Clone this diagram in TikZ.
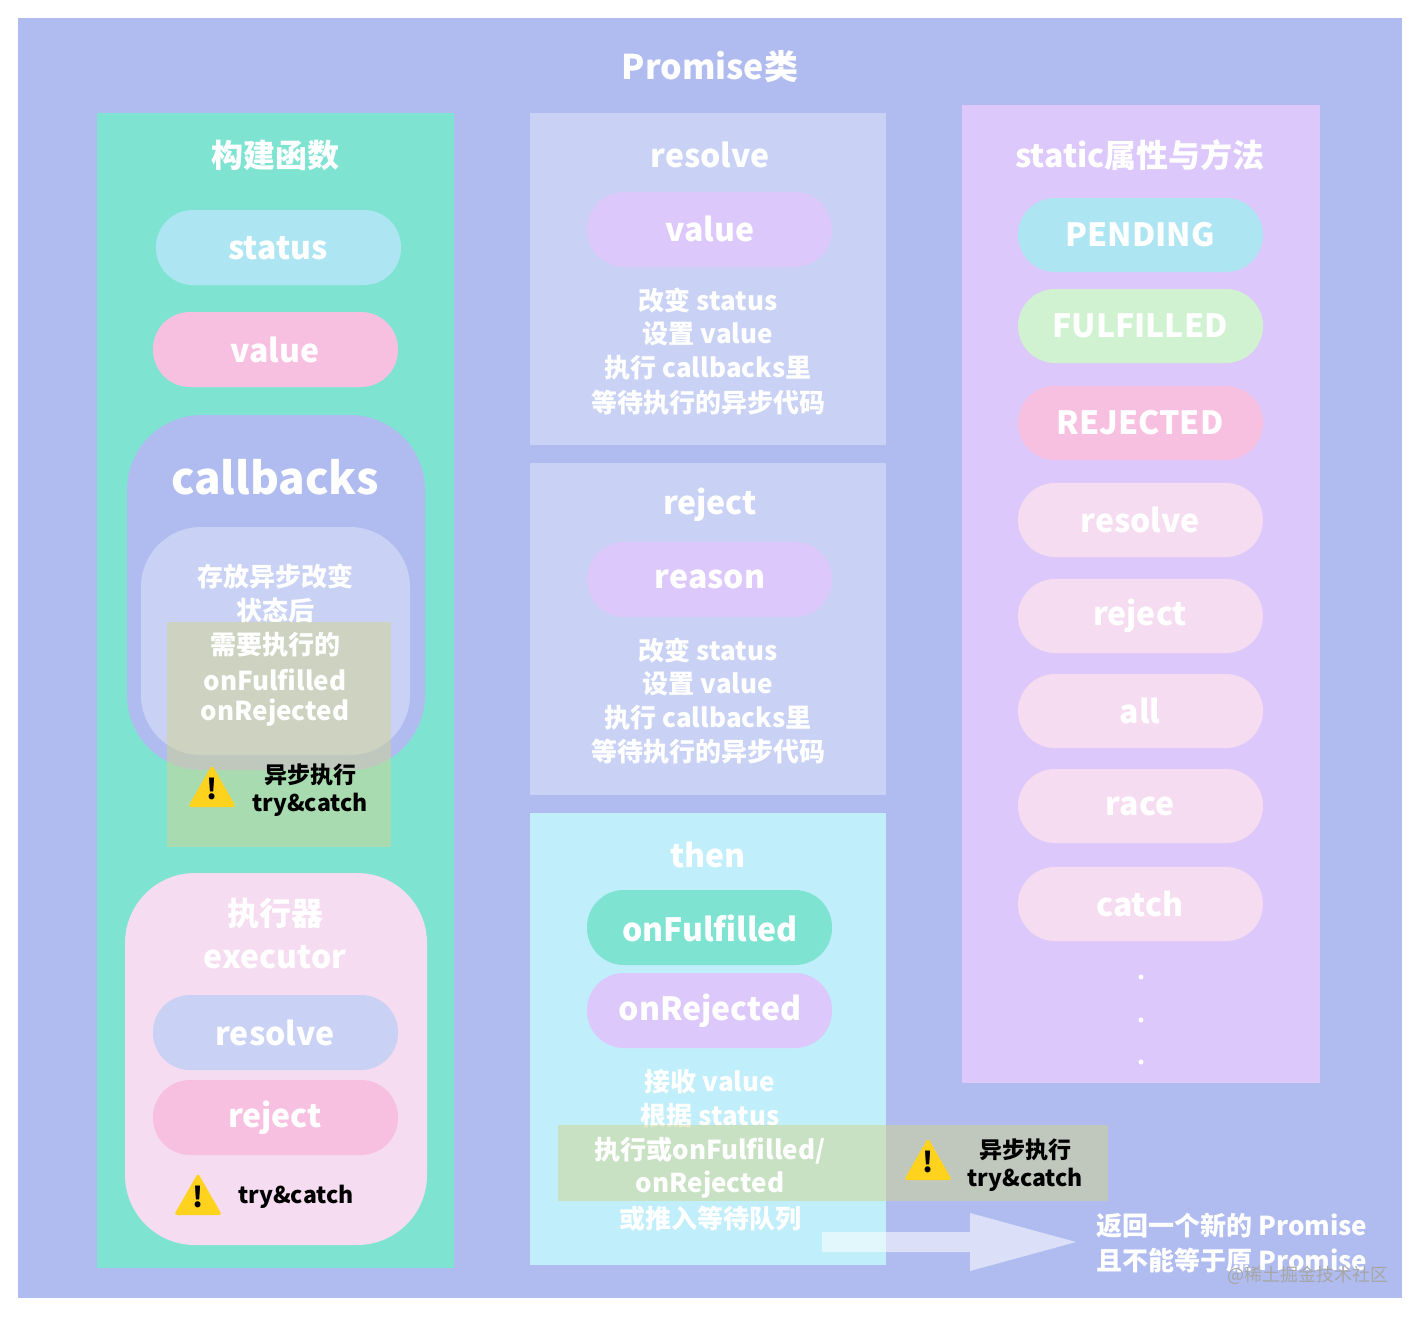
\documentclass[tikz,border=0pt]{standalone}
\usepackage{fontspec}
\setmainfont{Noto Sans CJK SC}
\definecolor{bgp}{HTML}{B0BCF0}
\definecolor{teal}{HTML}{7FE3D2}
\definecolor{cyanp}{HTML}{ADE6F2}
\definecolor{pinkp}{HTML}{F8C0E0}
\definecolor{lav}{HTML}{C9D2F4}
\definecolor{purp}{HTML}{DCC8FA}
\definecolor{lpink}{HTML}{F5DCF0}
\definecolor{lgreen}{HTML}{D0F2D0}
\definecolor{thenc}{HTML}{C0EEFA}
\definecolor{olive}{HTML}{D1D58E}
\definecolor{warny}{HTML}{FFD21E}
\tikzset{
 pill/.style={rounded corners=37pt},
 wt/.style={text=white,font=\bfseries\fontsize{32}{36}\selectfont,inner sep=0pt},
 bt/.style={text=white,font=\bfseries\fontsize{26}{30}\selectfont,inner sep=0pt},
 kt/.style={text=black,font=\bfseries\fontsize{23}{26}\selectfont,inner sep=0pt},
}
\newcommand{\warnsign}[2]{%
 \fill[warny,rounded corners=3pt] (#1-24pt,-#2-20pt) -- (#1,-#2+22pt) -- (#1+24pt,-#2-20pt) -- cycle;
 \node[text=black,font=\bfseries\fontsize{28}{28}\selectfont,inner sep=0pt] at (#1,-#2-2pt) {!};}
\begin{document}
\begin{tikzpicture}[x=1pt,y=-1pt]
\useasboundingbox (0,0) rectangle (1420,1318);
\fill[white] (0,0) rectangle (1420,1318);
\fill[bgp] (18,18) rectangle (1402,1298);
\node[wt,font=\bfseries\fontsize{34}{38}\selectfont] (title) at (710,67) {Promise类};
% left column
\fill[teal] (97,113) rectangle (454,1268);
\node[wt] (ctor) at (275,155) {构建函数};
\fill[cyanp,pill] (156,210) rectangle (401,285);
\node[wt] (st) at (278,248) {status};
\fill[pinkp,pill] (153,312) rectangle (398,387);
\node[wt] (val) at (275,350) {value};
\fill[bgp,rounded corners=75pt] (127,415) rectangle (425,770);
\node[wt,font=\bfseries\fontsize{44}{48}\selectfont] (cb) at (275,477) {callbacks};
\fill[lav,rounded corners=60pt] (141,527) rectangle (410,755);
\node[bt] at (275,576) {存放异步改变};
\node[bt] at (275,610) {状态后};
\fill[olive,opacity=0.5] (167,622) rectangle (391,847);
\node[bt] at (275,645) {需要执行的};
\node[bt] at (275,680) {onFulfilled};
\node[bt] at (275,713) {onRejected};
\warnsign{212}{787}
\node[kt] at (310,775) {异步执行};
\node[kt] at (310,805) {try\&catch};
\fill[lpink,rounded corners=70pt] (125,873) rectangle (427,1245);
\node[wt] (exe1) at (275,913) {执行器};
\node[wt] (exe2) at (275,957) {executor};
\fill[lav,pill] (153,995) rectangle (398,1070);
\node[wt] (eres) at (275,1033) {resolve};
\fill[pinkp,pill] (153,1080) rectangle (398,1155);
\node[wt] (erej) at (275,1118) {reject};
\warnsign{198}{1195}
\node[kt] at (296,1197) {try\&catch};
% middle
\fill[lav] (530,113) rectangle (886,445);
\node[wt] (res) at (710,155) {resolve};
\fill[purp,pill] (587,192) rectangle (832,267);
\node[wt] at (710,229) {value};
\node[bt] at (708,300) {改变 status};
\node[bt] at (708,334) {设置 value};
\node[bt] at (708,368) {执行 callbacks里};
\node[bt] at (708,403) {等待执行的异步代码};
\fill[lav] (530,463) rectangle (886,795);
\node[wt] (rej) at (710,505) {reject};
\fill[purp,pill] (587,542) rectangle (832,617);
\node[wt] at (710,579) {reason};
\node[bt] at (708,650) {改变 status};
\node[bt] at (708,684) {设置 value};
\node[bt] at (708,718) {执行 callbacks里};
\node[bt] at (708,752) {等待执行的异步代码};
\fill[thenc] (530,813) rectangle (886,1265);
\node[wt] (then) at (708,855) {then};
\fill[teal,pill] (587,890) rectangle (832,965);
\node[wt] at (710,928) {onFulfilled};
\fill[purp,pill] (587,973) rectangle (832,1048);
\node[wt] at (710,1011) {onRejected};
\node[bt] at (710,1082) {接收 value};
\node[bt] at (710,1116) {根据 status};
\fill[olive,opacity=0.5] (558,1125) rectangle (1108,1201);
\node[bt] at (710,1151) {执行或onFulfilled/};
\node[bt] at (710,1185) {onRejected};
\node[bt] at (710,1219) {或推入等待队列};
\warnsign{928}{1160}
\node[kt] at (1025,1150) {异步执行};
\node[kt] at (1025,1180) {try\&catch};
\coordinate (a1) at (822,1242);
\coordinate (a2) at (1076,1242);
\fill[white,opacity=0.55] (822,1232) -- (970,1232) -- (970,1213) -- (1076,1242) -- (970,1271) -- (970,1252) -- (822,1252) -- cycle;
\node[bt] (ret1) at (1232,1226) {返回一个新的 Promise};
\node[bt] (ret2) at (1232,1260) {且不能等于原 Promise};
\node[text=gray!70!white,font=\fontsize{18}{20}\selectfont,inner sep=0pt] at (1308,1275) {@稀土掘金技术社区};
% right
\fill[purp] (962,105) rectangle (1320,1083);
\node[wt] (stat) at (1140,155) {static属性与方法};
\foreach \c/\y/\t in {cyanp/235/PENDING, lgreen/326/FULFILLED, pinkp/423/REJECTED, lpink/520/resolve, lpink/616/reject, lpink/711/all, lpink/806/race, lpink/904/catch}{
 \fill[\c,pill] (1018,\y-37) rectangle (1263,\y+37);
 \node[wt] at (1140,\y) {\t};
}
\foreach \y in {977,1020,1062} \fill[white] (1141,\y) circle (2.5);
\end{tikzpicture}
\end{document}
